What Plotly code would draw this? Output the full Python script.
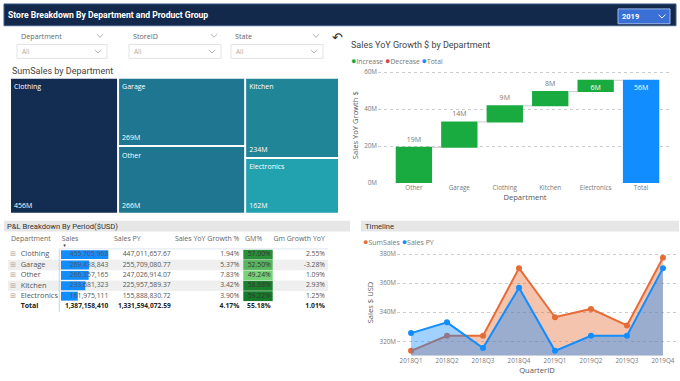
import plotly.graph_objects as go

W, H = 680, 381


def fx(p):
    return p / W


def fy(p):
    return 1 - p / H


# ---------------- data ----------------
departments = ["Clothing", "Garage", "Other", "Kitchen", "Electronics"]
sales = [455705968, 269438843, 266357165, 233681323, 161975111]
sales_py = [447011657.67, 255709080.77, 247026914.07, 225957589.37, 155888830.72]
yoy_pct = [1.94, 5.37, 7.83, 3.42, 3.90]
gm_pct = [57.00, 52.50, 49.24, 58.68, 59.22]
gm_growth = [2.55, -3.28, 1.09, 2.93, 1.25]
total_sales = 1387158410
total_sales_py = 1331594072.59
total_yoy = 4.17
total_gm = 55.18
total_gm_growth = 1.01

quarters = ["2018Q1", "2018Q2", "2018Q3", "2018Q4", "2019Q1", "2019Q2", "2019Q3", "2019Q4"]
sumsales_q = [313.5, 323.9, 323.9, 370.3, 336.6, 342.3, 330.9, 377.4]
salespy_q = [325.7, 333.1, 315.4, 356.9, 313.5, 323.9, 323.9, 370.3]

filters = ["Department", "StoreID", "State"]
year_selected = "2019"

wf_ticks = [0, 20, 40, 60]
tl_ticks = [320, 340, 360, 380]

# ---------------- styles ----------------
FONT = "Open Sans"
TFONT = "Roboto"
HFONT = "Roboto"
GRAY = "#777777"
DARK = "#444444"
C_INC, C_DEC, C_TOT = "#1AAB40", "#D64550", "#118DFF"
C_SUM, C_PY = "#E66C37", "#118DFF"

fig = go.Figure()

# ---------------- treemap ----------------
tm_values = [round(v / 1e6, 1) for v in sales]
tm_colors = ["#132C52", "#1E7690", "#1E7690", "#1F8597", "#22A1AF"]
tm_dom = dict(x=[fx(11), fx(338)], y=[fy(215), fy(79.5)])
fig.add_trace(go.Treemap(
    labels=departments, parents=[""] * len(departments), values=tm_values, domain=tm_dom,
    marker=dict(colors=tm_colors, line=dict(width=0), pad=dict(t=0, l=0, r=0, b=0)),
    tiling=dict(pad=2, packing="squarify"), pathbar=dict(visible=False), sort=True,
    texttemplate="%{label}", textposition="top left",
    textfont=dict(color="white", size=7.5, family=FONT), hoverinfo="skip"))
fig.add_trace(go.Treemap(
    labels=departments, parents=[""] * len(departments), values=tm_values, domain=tm_dom,
    marker=dict(colors=["rgba(0,0,0,0)"] * len(departments), line=dict(width=0),
                pad=dict(t=0, l=0, r=0, b=0)),
    tiling=dict(pad=2, packing="squarify"), pathbar=dict(visible=False), sort=True,
    texttemplate="%{value:.0f}M", textposition="bottom left",
    textfont=dict(color="white", size=7, family=FONT), hoverinfo="skip"))

# ---------------- waterfall ----------------
growth = {d: s - p for d, s, p in zip(departments, sales, sales_py)}
wf_depts = sorted(growth, key=growth.get, reverse=True)
wf_vals = [growth[d] / 1e6 for d in wf_depts]
wf_total = sum(wf_vals)
wf_text = [f"{v:.0f}M" for v in wf_vals] + [f"{wf_total:.0f}M"]
wf_pos = ["outside"] * (len(wf_vals) - 1) + ["inside", "inside"]
fig.add_trace(go.Waterfall(
    x=wf_depts + ["Total"], y=wf_vals + [0],
    measure=["relative"] * len(wf_vals) + ["total"],
    text=wf_text, textposition=wf_pos, insidetextanchor="end",
    outsidetextfont=dict(color=GRAY, size=7, family=FONT),
    insidetextfont=dict(color="white", size=7, family=FONT),
    increasing=dict(marker=dict(color=C_INC)),
    decreasing=dict(marker=dict(color=C_DEC)),
    totals=dict(marker=dict(color=C_TOT)),
    connector=dict(line=dict(color="#cccccc", width=1)),
    cliponaxis=False, xaxis="x", yaxis="y", hoverinfo="skip", showlegend=False))

# ---------------- timeline ----------------
fig.add_trace(go.Scatter(
    x=quarters, y=sumsales_q, mode="lines+markers", name="SumSales",
    line=dict(color=C_SUM, width=2), marker=dict(size=6, color=C_SUM),
    fill="tozeroy", fillcolor="rgba(230,108,55,0.40)",
    xaxis="x2", yaxis="y2", hoverinfo="skip", showlegend=False))
fig.add_trace(go.Scatter(
    x=quarters, y=salespy_q, mode="lines+markers", name="Sales PY",
    line=dict(color=C_PY, width=2), marker=dict(size=6, color=C_PY),
    fill="tozeroy", fillcolor="rgba(17,141,255,0.40)",
    xaxis="x2", yaxis="y2", hoverinfo="skip", showlegend=False))

# ---------------- table (on its own axes, x in pixel units) ----------------
rows = list(range(len(departments)))
total_row = len(departments)
hdr_row = -1.46
odd_rows = [r for r in rows if r % 2 == 1]

# alternate row shading
fig.add_trace(go.Bar(
    y=odd_rows, x=[320] * len(odd_rows),
    base=8, orientation="h", width=1.0, marker=dict(color="#EFEFEF", line=dict(width=0)),
    xaxis="x3", yaxis="y3", hoverinfo="skip", showlegend=False))
# data bars for Sales
max_sales = max(sales)
fig.add_trace(go.Bar(
    y=rows, x=[s / max_sales * 47.3 for s in sales], base=61, orientation="h", width=0.86,
    marker=dict(color="#118DFF", line=dict(width=0)),
    xaxis="x3", yaxis="y3", hoverinfo="skip", showlegend=False))
# GM% background colours
lo, hi = min(gm_pct), max(gm_pct)
c_lo, c_hi = (120, 210, 118), (20, 124, 40)


def gm_color(v):
    t = (v - lo) / (hi - lo)
    return "rgb({},{},{})".format(*[round(a + (b - a) * t) for a, b in zip(c_lo, c_hi)])


fig.add_trace(go.Bar(
    y=rows, x=[29.4] * len(rows), base=243.3, orientation="h", width=0.95,
    marker=dict(color=[gm_color(v) for v in gm_pct], line=dict(width=0)),
    xaxis="x3", yaxis="y3", hoverinfo="skip", showlegend=False))


def tcol(x, y, text, pos, color="#555555", size=6.8):
    fig.add_trace(go.Scatter(
        x=[x] * len(y), y=y, text=text, mode="text", textposition=pos,
        textfont=dict(color=color, size=size, family=FONT),
        xaxis="x3", yaxis="y3", hoverinfo="skip", showlegend=False, cliponaxis=False))


HC = "#666666"
# header
tcol(11, [hdr_row], ["Department"], "middle right", HC, 7)
tcol(61.7, [hdr_row - 0.05], ["Sales"], "middle right", HC, 7)
tcol(62.5, [hdr_row + 0.62], ["▼"], "middle right", "#333333", 4.2)
tcol(114, [hdr_row], ["Sales PY"], "middle right", HC, 7)
tcol(239.3, [hdr_row], ["Sales YoY Growth %"], "middle left", HC, 7)
tcol(245, [hdr_row], ["GM%"], "middle right", HC, 7)
tcol(325, [hdr_row], ["Gm Growth YoY"], "middle left", HC, 7)
# body
tcol(10, rows, ["⊞"] * len(rows), "middle right", "#aaaaaa", 7)
tcol(20.7, rows, departments, "middle right", "#555555", 7.4)
tcol(108.3, rows, [f"{v:,.0f}" for v in sales], "middle left")
tcol(170.7, rows, [f"{v:,.2f}" for v in sales_py], "middle left")
tcol(239.3, rows, [f"{v:.2f}%" for v in yoy_pct], "middle left")
tcol(270.7, rows, [f"{v:.2f}%" for v in gm_pct], "middle left", "#333333")
tcol(325, rows, [f"{v:.2f}%" for v in gm_growth], "middle left")
# total
TC = "#222222"
tcol(20.7, [total_row], ["<b>Total</b>"], "middle right", TC, 7)
tcol(108.3, [total_row], [f"<b>{total_sales:,.0f}</b>"], "middle left", TC, 6.6)
tcol(170.7, [total_row], [f"<b>{total_sales_py:,.2f}</b>"], "middle left", TC, 6.6)
tcol(239.3, [total_row], [f"<b>{total_yoy:.2f}%</b>"], "middle left", TC, 6.8)
tcol(270.7, [total_row], [f"<b>{total_gm:.2f}%</b>"], "middle left", TC, 6.8)
tcol(325, [total_row], [f"<b>{total_gm_growth:.2f}%</b>"], "middle left", TC, 6.8)

# ---------------- shapes & annotations ----------------
shapes = []
ann = []


def rect(x0, y0, x1, y1, fill, line=None, lw=0):
    shapes.append(dict(type="rect", xref="paper", yref="paper", x0=fx(x0), x1=fx(x1),
                       y0=fy(y1), y1=fy(y0), fillcolor=fill,
                       line=dict(color=line or fill, width=lw), layer="below"))


def chevron(cx, cy, color="#999999", w=6.5, h=3.2):
    path = "M {},{} L {},{} L {},{}".format(fx(cx - w / 2), fy(cy - h / 2), fx(cx), fy(cy + h / 2),
                                            fx(cx + w / 2), fy(cy - h / 2))
    shapes.append(dict(type="path", xref="paper", yref="paper", path=path,
                       line=dict(color=color, width=0.9)))


def text(x, y, s, size=8, color=DARK, family=FONT, xanchor="left", angle=0):
    ann.append(dict(x=fx(x), y=fy(y), xref="paper", yref="paper", text=s, showarrow=False,
                    xanchor=xanchor, yanchor="middle", textangle=angle,
                    font=dict(size=size, color=color, family=family)))


def dot(color):
    return "<span style='color:%s;font-size:9px'>●</span>" % color


# header bar
rect(4, 4, 676, 26, "#13294B", "#3d5d8c", 1)
text(6, 15, "<b>Store Breakdown By Department and Product Group</b>", 8.6, "white", HFONT)
rect(618, 9, 670, 24, "#3A70D5", "#9db8ee", 1)
text(620, 16.5, "<b>" + year_selected + "</b>", 7.5, "white", HFONT)
chevron(662, 16.5, "white", 7, 3.5)

# slicers
slicer_x = [(17, 107), (129, 221), (231, 323)]
for name, (x0, x1) in zip(filters, slicer_x):
    text(x0 + 2, 36, name, 7.2, "#666666")
    chevron(x1 - 7, 36, "#aaaaaa")
    rect(x0, 45, x1, 59, "white", "#e3e3e3", 1)
    text(x0 + 2.5, 52.3, "All", 6.5, "#aaaaaa")
    chevron(x1 - 9, 52, "#aaaaaa")
text(330, 37, "↶", 13, "#333333")

# titles
text(10, 71.5, "SumSales by Department", 9, DARK, TFONT)
text(349, 45.5, "Sales YoY Growth $ by Department", 9, DARK, TFONT)
text(349, 61, dot(C_INC) + "Increase " + dot(C_DEC) + "Decrease " + dot(C_TOT) + "Total",
     6.8, GRAY)

# band headers
rect(4, 223, 350, 234, "#E6E6E6")
text(5, 229, "P&L Breakdown By Period($USD)", 7.6, "#333333", TFONT)
rect(361, 223, 679, 234, "#E6E6E6")
text(363, 229, "Timeline", 7.6, "#333333", TFONT)
text(361, 244.5, dot(C_SUM) + "SumSales " + dot(C_PY) + "Sales PY", 7, GRAY)

# table decorations
shapes.append(dict(type="line", xref="x3", yref="y3", x0=59.3, x1=59.3, y0=-0.55, y1=5.5,
                   line=dict(color="#b9d6ff", width=1)))
shapes.append(dict(type="line", xref="x3", yref="y3", x0=59.3, x1=328, y0=-0.55, y1=-0.55,
                   line=dict(color="#dfe6f0", width=1)))

axis_font = dict(size=6.3, color=GRAY, family=FONT)
title_font = dict(size=7.6, color="#555555", family=FONT)

fig.update_layout(
    width=W, height=H, autosize=False, margin=dict(l=0, r=0, t=0, b=0),
    paper_bgcolor="white", plot_bgcolor="rgba(0,0,0,0)",
    font=dict(family=FONT, size=8, color=GRAY),
    showlegend=False, barmode="overlay",
    uniformtext=dict(minsize=7, mode="show"),
    shapes=shapes, annotations=ann,
    xaxis=dict(domain=[fx(378), fx(672)], range=[-0.79, 5.68], showgrid=False, zeroline=False,
               showline=False, ticks="", tickfont=axis_font,
               title=dict(text="Department", font=title_font, standoff=3)),
    yaxis=dict(domain=[fy(185), fy(68)], range=[0, 62.6], tickmode="array", tickvals=wf_ticks,
               ticktext=[f"{v}M" for v in wf_ticks], showgrid=True, griddash="dot",
               gridcolor="#cccccc", zeroline=False, showline=False, ticks="", tickfont=axis_font,
               title=dict(text="Sales YoY Growth $", font=title_font, standoff=4)),
    xaxis2=dict(domain=[fx(397), fx(677)], range=[-0.39, 7.39], showgrid=False, zeroline=False,
                showline=False, ticks="", tickfont=axis_font, anchor="y2",
                title=dict(text="QuarterID", font=title_font, standoff=2)),
    yaxis2=dict(domain=[fy(359.3), fy(252)], range=[310.3, 383.2], tickmode="array",
                tickvals=tl_ticks, ticktext=[f"{v}M" for v in tl_ticks],
                showgrid=True, griddash="dot", gridcolor="#cccccc",
                zeroline=False, showline=False, ticks="", tickfont=axis_font, anchor="x2",
                title=dict(text="Sales $ USD", font=title_font, standoff=4)),
    xaxis3=dict(domain=[0, 1], range=[0, W], visible=False, anchor="y3", fixedrange=True),
    yaxis3=dict(domain=[fy(320.3), fy(236.3)], range=[6, -2], visible=False, anchor="x3",
                fixedrange=True),
)

fig.write_html("out.html", config={"displayModeBar": False},
               post_script="document.body.style.margin='0px';")
